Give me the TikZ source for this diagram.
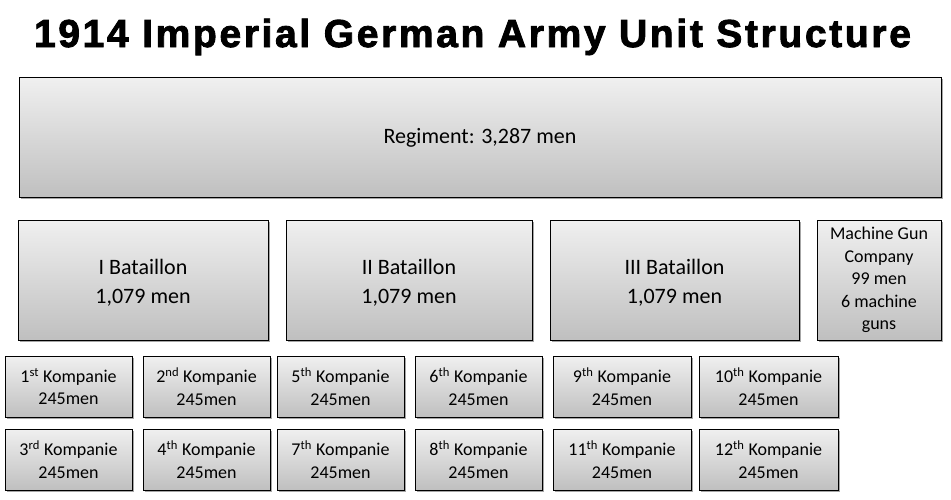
\documentclass[tikz,border=0pt]{standalone}
\usepackage{fontspec}
\setmainfont{Carlito}
\newfontfamily\titlefont[FakeBold=2.2,LetterSpace=6.8]{Liberation Sans Bold}
\usetikzlibrary{shadows}
\tikzset{
  unitbox/.style={draw=black, line width=0.9pt, top color=gray!12, bottom color=gray!50,
    drop shadow={shadow xshift=1.5pt, shadow yshift=-1.5pt, opacity=0.35, fill=black},
    align=center, inner sep=0pt, text=black},
  bigtext/.style={font=\fontsize{22}{29}\selectfont},
  smalltext/.style={font=\fontsize{18}{22.5}\selectfont},
  battext/.style={bigtext, align=center, inner sep=0pt, yshift=-2.5pt, text=black},
  titletext/.style={font=\titlefont\fontsize{39}{44}\selectfont, inner sep=0pt}
}
\begin{document}
\begin{tikzpicture}[x=1pt,y=-1pt]
\useasboundingbox (0,0) rectangle (951,499);
\node[titletext, anchor=base] (title) at (472.5,47) {1914 Imperial German Army Unit Structure};
\node[unitbox, bigtext, minimum width=922pt, minimum height=120pt] (reg) at (480,137.5) {Regiment: 3,287 men};
\node[unitbox, minimum width=250pt, minimum height=120pt,
  label={[battext]center:I Bataillon\\1,079 men}] (b1) at (143,280) {};
\node[unitbox, minimum width=246pt, minimum height=120pt,
  label={[battext]center:II Bataillon\\1,079 men}] (b2) at (409,280) {};
\node[unitbox, minimum width=249pt, minimum height=120pt,
  label={[battext]center:III Bataillon\\1,079 men}] (b3) at (674.5,280) {};
\node[unitbox, smalltext, minimum width=124pt, minimum height=120pt] (mg) at (879,280) {Machine Gun\\Company\\99 men\\6 machine\\guns};
% Kompanien row 1
\node[unitbox, smalltext, minimum width=127pt, minimum height=61pt] (k1) at (68.5,386.5) {1\textsuperscript{st} Kompanie\\245men};
\node[unitbox, smalltext, minimum width=127pt, minimum height=61pt] (k2) at (206.5,386.5) {2\textsuperscript{nd} Kompanie\\245men};
\node[unitbox, smalltext, minimum width=127pt, minimum height=61pt] (k5) at (340.5,386.5) {5\textsuperscript{th} Kompanie\\245men};
\node[unitbox, smalltext, minimum width=127pt, minimum height=61pt] (k6) at (478.5,386.5) {6\textsuperscript{th} Kompanie\\245men};
\node[unitbox, smalltext, minimum width=138pt, minimum height=61pt] (k9) at (622,386.5) {9\textsuperscript{th} Kompanie\\245men};
\node[unitbox, smalltext, minimum width=139pt, minimum height=61pt] (k10) at (768.5,386.5) {10\textsuperscript{th} Kompanie\\245men};
% Kompanien row 2
\node[unitbox, smalltext, minimum width=127pt, minimum height=61pt] (k3) at (68.5,459.5) {3\textsuperscript{rd} Kompanie\\245men};
\node[unitbox, smalltext, minimum width=127pt, minimum height=61pt] (k4) at (206.5,459.5) {4\textsuperscript{th} Kompanie\\245men};
\node[unitbox, smalltext, minimum width=127pt, minimum height=61pt] (k7) at (340.5,459.5) {7\textsuperscript{th} Kompanie\\245men};
\node[unitbox, smalltext, minimum width=127pt, minimum height=61pt] (k8) at (478.5,459.5) {8\textsuperscript{th} Kompanie\\245men};
\node[unitbox, smalltext, minimum width=138pt, minimum height=61pt] (k11) at (622,459.5) {11\textsuperscript{th} Kompanie\\245men};
\node[unitbox, smalltext, minimum width=139pt, minimum height=61pt] (k12) at (768.5,459.5) {12\textsuperscript{th} Kompanie\\245men};
\end{tikzpicture}
\end{document}
